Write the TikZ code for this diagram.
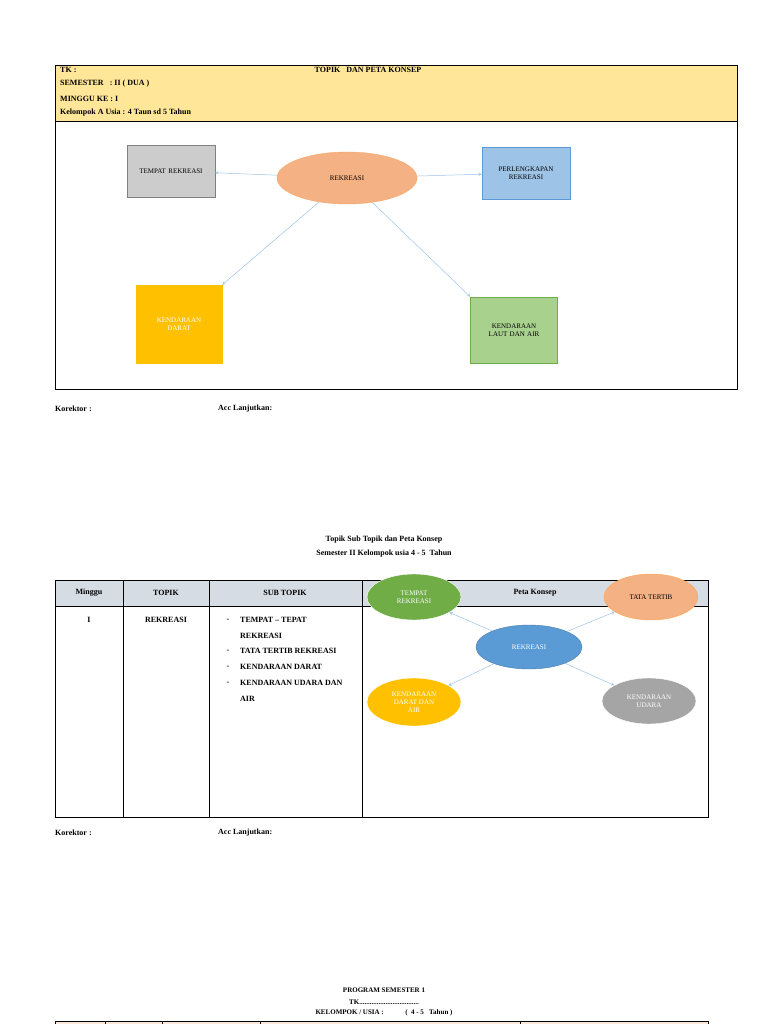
\documentclass[tikz,border=0pt]{standalone}
\usepackage{fontspec}
\setmainfont{Liberation Serif}
\usepackage{xcolor}
\usepackage{tikz}
\usetikzlibrary{shapes.geometric}
\definecolor{hdryellow}{HTML}{FFE699}
\definecolor{hdrgray}{HTML}{D6DCE4}
\definecolor{peach}{HTML}{F4B183}
\definecolor{arrowblue}{HTML}{9DC3E6}
\definecolor{midblue}{HTML}{5B9BD5}
\definecolor{leaf}{HTML}{70AD47}
\definecolor{lightleaf}{HTML}{A9D18E}
\definecolor{gold}{HTML}{FFC000}
\definecolor{stone}{HTML}{A5A5A5}

\begin{document}
\begin{tikzpicture}[x=1pt, y=-1pt,
    box/.style={draw, minimum width=88pt, minimum height=52pt, font=\fontsize{7}{8}\selectfont, align=center, text width=80pt},
    oval/.style={ellipse, draw=white, minimum width=94pt, minimum height=46pt, inner sep=0pt, font=\fontsize{7}{8}\selectfont, align=center},
    link/.style={draw=arrowblue, -stealth, line width=0.5pt},
    txt/.style={font=\fontsize{8}{9}\selectfont\bfseries, inner sep=0pt}]
    \useasboundingbox (0,0) rectangle (768,1024);
    % top sheet
    \fill[hdryellow] (55,65) rectangle (737,121);
    \draw (55,65) rectangle (737,389);
    \draw (55,121) -- (737,121);
    \node[txt, anchor=west] (tk) at (60,70) {TK :};
    \node[txt] (topik) at (368,70) {TOPIK \ \ DAN PETA KONSEP};
    \node[txt, anchor=west] (sem) at (60,84) {SEMESTER \ \ : II ( DUA )};
    \node[txt, anchor=west] (minggu) at (60,99) {MINGGU KE : I};
    \node[txt, anchor=west] (kel) at (60,113) {Kelompok A Usia : 4 Taun sd 5 Tahun};

    \node[ellipse, draw=peach!80!orange, fill=peach, minimum width=140pt, minimum height=52pt, font=\fontsize{7}{8}\selectfont] (rek) at (347,178) {REKREASI};
    \node[box, fill=gray!40, draw=gray] (tempat) at (171,171) {TEMPAT REKREASI};
    \node[box, fill=arrowblue, draw=midblue] (perl) at (526,173) {PERLENGKAPAN\\REKREASI};
    \node[box, fill=gold, draw=gold, text=white, minimum width=86pt, minimum height=78pt, text width=78pt] (darat) at (179,324) {KENDARAAN\\DARAT\\[28pt]};
    \node[box, fill=lightleaf, draw=leaf, minimum width=87pt, minimum height=66pt, text width=80pt] (laut) at (514,330) {KENDARAAN\\LAUT DAN AIR};
    \draw[link] (rek) -- (tempat);
    \draw[link] (rek) -- (perl);
    \draw[link] (rek) -- (darat.north east);
    \draw[link] (rek) -- (laut.north west);

    \node[txt, anchor=west] (kor1) at (55,409) {Korektor :};
    \node[txt, anchor=west] (acc1) at (218,409) {Acc Lanjutkan:};

    % second sheet
    \node[txt] (judul) at (384,540) {Topik Sub Topik dan Peta Konsep};
    \node[txt] (sub) at (384,554) {Semester II Kelompok usia 4 - 5 \ Tahun};
    \fill[hdrgray] (55,580) rectangle (708,606);
    \draw (55,580) rectangle (708,817);
    \draw (55,606) -- (708,606);
    \foreach \xx in {123,209,362} \draw (\xx,580) -- (\xx,817);
    \node[txt] (h1) at (89,593) {Minggu};
    \node[txt] (h2) at (166,593) {TOPIK};
    \node[txt] (h3) at (285,593) {SUB TOPIK};
    \node[txt] (h4) at (535,593) {Peta Konsep};
    \node[txt] (c1) at (89,620) {I};
    \node[txt] (c2) at (166,620) {REKREASI};
    \foreach \yy/\tt/\dd in {620/TEMPAT -- TEPAT/-, 636/REKREASI/, 651/TATA TERTIB REKREASI/-, 667/KENDARAAN DARAT/-, 683/KENDARAAN UDARA DAN/-, 699/AIR/}
      {\node[txt] at (228,\yy) {\dd}; \node[txt, anchor=west] at (240,\yy) {\tt};}

    \node[oval, fill=midblue, draw=midblue!80!black, text=white, minimum width=106pt, minimum height=44pt] (rek2) at (529,647) {REKREASI};
    \node[oval, fill=leaf, text=white] (tempat2) at (414,597) {TEMPAT\\REKREASI};
    \node[oval, fill=peach, draw=orange!70] (tata) at (651,597) {TATA TERTIB};
    \node[oval, fill=gold, text=white, minimum height=48pt] (darat2) at (414,702) {KENDARAAN\\DARAT DAN\\AIR};
    \node[oval, fill=stone, text=white] (udara) at (649,701) {KENDARAAN\\UDARA};
    \draw[link] (rek2) -- (tempat2);
    \draw[link] (rek2) -- (tata);
    \draw[link] (rek2) -- (darat2);
    \draw[link] (rek2) -- (udara);

    \node[txt, anchor=west] (kor2) at (55,833) {Korektor :};
    \node[txt, anchor=west] (acc2) at (218,833) {Acc Lanjutkan:};

    % third sheet
    \node[font=\fontsize{7}{8}\selectfont\bfseries, inner sep=0pt] (prog) at (384,990) {PROGRAM SEMESTER 1};
    \node[font=\fontsize{7}{8}\selectfont\bfseries, inner sep=0pt] (tk3) at (384,1002) {TK..................................};
    \node[font=\fontsize{7}{8}\selectfont\bfseries, inner sep=0pt] (kel3) at (384,1013) {KELOMPOK / USIA : \hspace{18pt} ( \ 4 - 5 \ \ Tahun )};
    \fill[peach!30] (55,1021) rectangle (708,1030);
    \draw (55,1030) -- (55,1021) -- (708,1021) -- (708,1030);
    \foreach \xx in {105,162,260,520} \draw (\xx,1021) -- (\xx,1030);
\end{tikzpicture}
\end{document}
